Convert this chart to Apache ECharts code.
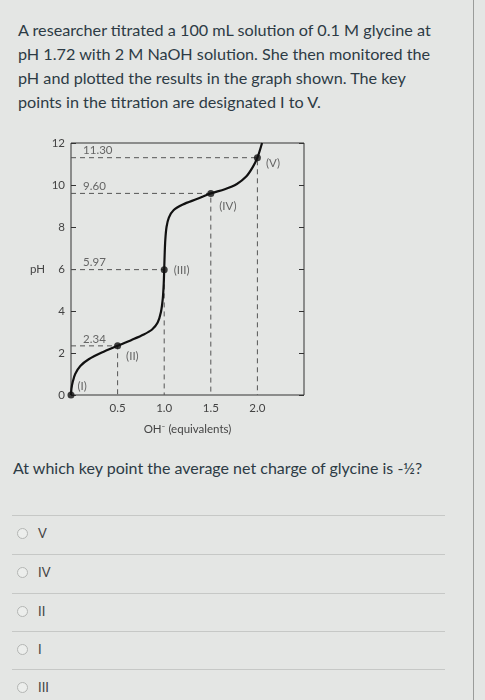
<!DOCTYPE html>
<html>
<head>
<meta charset="utf-8">
<script src="https://cdn.jsdelivr.net/npm/echarts@6/dist/echarts.min.js"></script>
<style>
  html, body { margin: 0; padding: 0; }
  body { width: 485px; height: 700px; background: #e4e6e4; position: relative; overflow: hidden;
         font-family: Lato, "Open Sans", sans-serif; color: #2d3b45; }
  .intro { position: absolute; left: 18px; top: 18px; font-size: 16.2px; line-height: 24px; white-space: nowrap; }
  .question { position: absolute; left: 13px; top: 458px; font-size: 16px; white-space: nowrap; }
  .edge { position: absolute; left: 473px; top: 0; width: 1px; height: 700px; background: #9a9c9a; }
  .sep { position: absolute; left: 12px; width: 433px; height: 1px; background: #c6c8c6; }
  .opt { position: absolute; left: 17px; font-size: 13px; color: #444; }
  .opt span { display: inline-block; width: 9px; height: 9px; border: 1px solid #b4b6b4; border-radius: 50%;
              background: #eceeec; vertical-align: -1px; margin-right: 10px; }
  #chart { position: absolute; left: 0; top: 0; width: 485px; height: 700px; }
</style>
</head>
<body>
<div class="intro">A researcher titrated a 100 mL solution of 0.1 M glycine at<br>pH 1.72 with 2 M NaOH solution. She then monitored the<br>pH and plotted the results in the graph shown. The key<br>points in the titration are designated I to V.</div>
<div class="question">At which key point the average net charge of glycine is -½?</div>
<div class="edge"></div>
<div id="options"></div>
<div id="chart"></div>
<script>
// 滴定曲线
var curveX = [0, 0.005, 0.02, 0.045, 0.1, 0.19, 0.33, 0.5, 0.65, 0.78, 0.87, 0.93, 0.965, 0.985, 0.995, 1.0, 1.005, 1.012, 1.025, 1.05, 1.1, 1.2, 1.35, 1.5, 1.65, 1.78, 1.88, 1.95, 2.0, 2.05];
var curveY = [0, 0.3, 0.65, 1.0, 1.38, 1.7, 2.02, 2.34, 2.62, 2.88, 3.12, 3.45, 3.95, 4.6, 5.3, 5.97, 6.7, 7.4, 8.0, 8.45, 8.8, 9.07, 9.33, 9.6, 9.8, 10.05, 10.4, 10.85, 11.3, 12.0];

// 关键点 I ~ V
var keyNames = ['(I)', '(II)', '(III)', '(IV)', '(V)'];
var keyX = [0, 0.5, 1.0, 1.5, 2.0];
var keyY = [0, 2.34, 5.97, 9.60, 11.30];

var yTicks = [0, 2, 4, 6, 8, 10, 12];
var xTicks = ['0.5', '1.0', '1.5', '2.0'];

var choices = ['V', 'IV', 'II', 'I', 'III'];

// 选项
var optBox = document.getElementById('options');
var rowTop = [515, 554, 593, 631, 669];
choices.forEach(function (c, i) {
  var sep = document.createElement('div');
  sep.className = 'sep';
  sep.style.top = rowTop[i] + 'px';
  optBox.appendChild(sep);
  var o = document.createElement('div');
  o.className = 'opt';
  o.style.top = (rowTop[i] + 10) + 'px';
  o.innerHTML = '<span></span>' + c;
  optBox.appendChild(o);
});

var chart = echarts.init(document.getElementById('chart'));

var labelPos = [[1, -9], [3, 10], [4, 1], [3, 13], [3, 6]];
var guideSeries = [];
for (var i = 1; i < keyX.length; i++) {
  guideSeries.push({
    type: 'line',
    symbol: 'none',
    silent: true,
    lineStyle: { color: '#555', width: 1, type: [5, 4] },
    data: [[0, keyY[i]], [keyX[i], keyY[i]], [keyX[i], 0]],
    z: 1
  });
}

var textStyle = { fontFamily: 'Lato, sans-serif', fontSize: 11.5, color: '#444' };

var option = {
  animation: false,
  grid: { left: 71, top: 143, width: 233, height: 252, show: true, borderColor: '#333', borderWidth: 1, backgroundColor: 'transparent' },
  xAxis: {
    type: 'value', min: 0, max: 2.5, interval: 0.5,
    axisLine: { show: false }, axisTick: { show: false }, splitLine: { show: false },
    axisLabel: Object.assign({ margin: 7, formatter: function (v) {
      var s = v.toFixed(1);
      return xTicks.indexOf(s) >= 0 ? s : '';
    } }, textStyle),
    name: 'OH⁻ (equivalents)', nameLocation: 'middle', nameGap: 28,
    nameTextStyle: textStyle
  },
  yAxis: [{
    type: 'value', min: 0, max: 12, interval: 2,
    axisLine: { show: false }, splitLine: { show: false },
    axisTick: { show: true, inside: true, length: 5, lineStyle: { color: '#333' } },
    axisLabel: Object.assign({ margin: 6, formatter: function (v) {
      return yTicks.indexOf(v) >= 0 ? String(v) : '';
    } }, textStyle),
    name: 'pH', nameLocation: 'middle', nameRotate: 0, nameGap: 26,
    nameTextStyle: textStyle
  }, {
    type: 'value', min: 0, max: 12, interval: 2, position: 'right',
    axisLine: { show: false }, splitLine: { show: false }, axisLabel: { show: false },
    axisTick: { show: true, inside: true, length: 5, lineStyle: { color: '#333' } }
  }],
  series: guideSeries.concat([{
    type: 'line',
    symbol: 'none',
    smooth: 0.3,
    lineStyle: { color: '#111', width: 2.2 },
    data: curveX.map(function (x, i) { return [x, curveY[i]]; }),
    z: 3
  }, {
    // 数值标注
    type: 'scatter',
    symbolSize: 0,
    silent: true,
    data: keyY.slice(1).map(function (y) { return [0.13, y]; }),
    label: Object.assign({ show: true, position: 'top', align: 'left', distance: 1,
      formatter: function (p) { return p.value[1].toFixed(2); } }, textStyle),
    z: 4
  }, {
    type: 'scatter',
    symbolSize: 7,
    itemStyle: { color: '#111' },
    data: keyX.map(function (x, i) {
      return {
        value: [x, keyY[i]],
        label: { offset: labelPos[i] }
      };
    }),
    label: Object.assign({ show: true, position: 'right', distance: 2,
      formatter: function (p) { return keyNames[p.dataIndex]; } }, textStyle),
    z: 5
  }])
};
chart.setOption(option);
</script>
</body>
</html>
